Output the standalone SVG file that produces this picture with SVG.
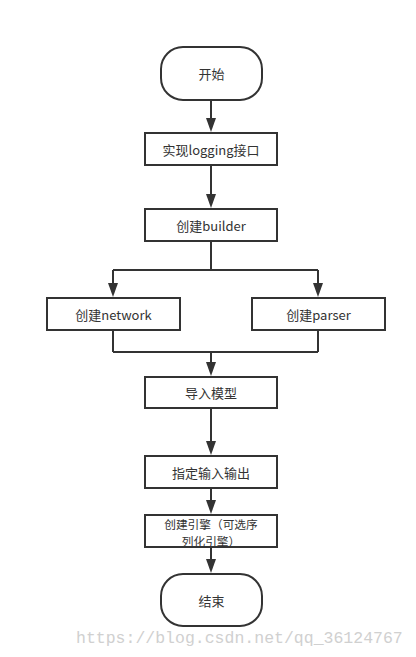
<svg xmlns="http://www.w3.org/2000/svg" width="416" height="657" viewBox="0 0 416 657">
<style>
.n rect{fill:#fff;stroke:#333;stroke-width:2}
.n text{font-family:"Noto Sans CJK SC","Microsoft YaHei",sans-serif;font-size:13px;fill:#333;text-anchor:middle;dominant-baseline:central}
.n text.s{font-size:11.7px}
.c path{fill:none;stroke:#333;stroke-width:2}
.c path.h{fill:#333;stroke:none}
.wm{font-family:"Liberation Mono",monospace;font-size:16.5px;fill:#d0d0d0}
</style>
<rect width="416" height="657" fill="#fff"/>
<g class="c" id="connectors">
<path d="M211,100 V119"/>
<path d="M211,165 V195"/>
<path d="M211,241 V270 M113,270 H318 M113,270 V284 M318,270 V284"/>
<path d="M113,330 V352 M318,330 V352 M113,352 H318 M211,352 V363"/>
<path d="M211,408 V442"/>
<path d="M211,488 V501"/>
<path d="M211,547 V560"/>
<path class="h" d="M206,118 L216,118 L211,132 Z"/>
<path class="h" d="M206,194 L216,194 L211,208 Z"/>
<path class="h" d="M108,283 L118,283 L113,297 Z"/>
<path class="h" d="M313,283 L323,283 L318,297 Z"/>
<path class="h" d="M206,362 L216,362 L211,376 Z"/>
<path class="h" d="M206,441 L216,441 L211,455 Z"/>
<path class="h" d="M206,500 L216,500 L211,514 Z"/>
<path class="h" d="M206,559 L216,559 L211,573 Z"/>
</g>
<g class="n" id="start"><rect x="161" y="47" width="101" height="53" rx="22"/><text x="211.5" y="73.5">开始</text></g>
<g class="n" id="logging"><rect x="145" y="133" width="132" height="32"/><text x="211" y="149">实现logging接口</text></g>
<g class="n" id="builder"><rect x="145" y="209" width="132" height="32"/><text x="211" y="225">创建builder</text></g>
<g class="n" id="network"><rect x="47" y="298" width="133" height="32"/><text x="113.5" y="314">创建network</text></g>
<g class="n" id="parser"><rect x="252" y="298" width="133" height="32"/><text x="318.5" y="314">创建parser</text></g>
<g class="n" id="import"><rect x="145" y="377" width="132" height="31"/><text x="211" y="392.5">导入模型</text></g>
<g class="n" id="io"><rect x="145" y="456" width="132" height="32"/><text x="211" y="472">指定输入输出</text></g>
<g class="n" id="engine"><rect x="145" y="515" width="132" height="32"/><text class="s" x="211" y="523"><tspan x="211" y="523">创建引擎（可选序</tspan><tspan x="211" y="540">列化引擎）</tspan></text></g>
<g class="n" id="end"><rect x="161" y="574" width="101" height="52" rx="22"/><text x="211.5" y="600">结束</text></g>
<text class="wm" x="76" y="643">https://blog.csdn.net/qq_36124767</text>
</svg>
